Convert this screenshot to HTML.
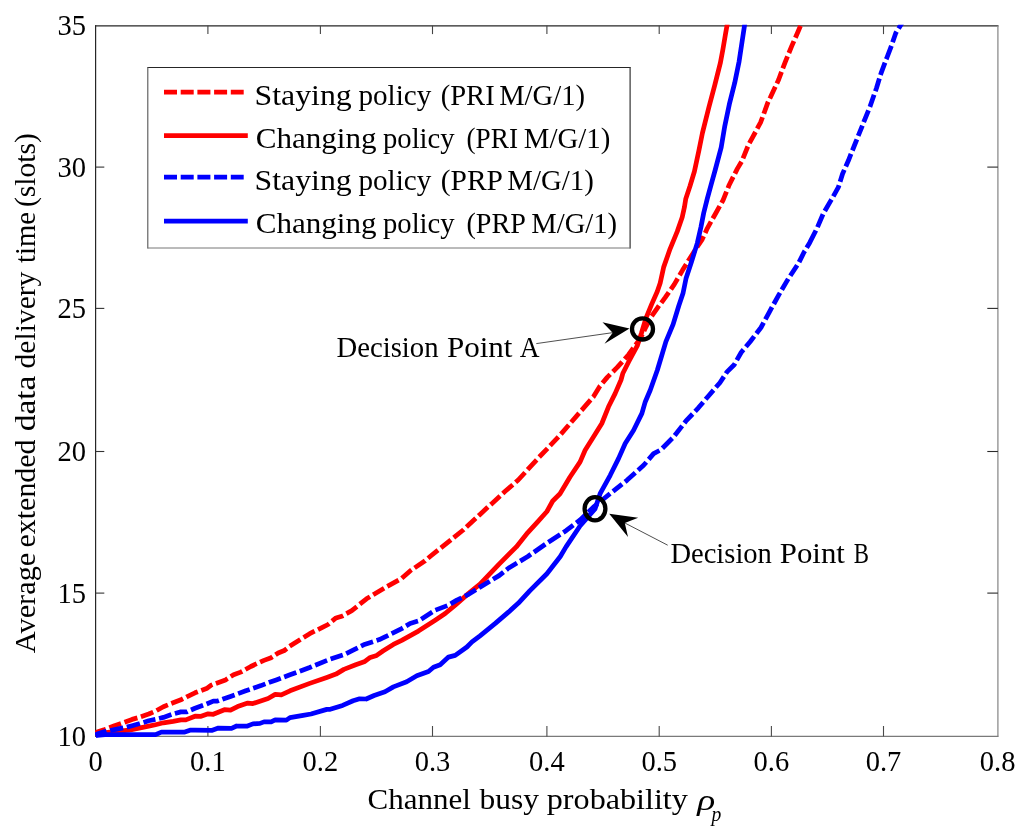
<!DOCTYPE html><html><head><meta charset="utf-8"><style>html,body{margin:0;padding:0;background:#fff;}svg{display:block;}text{font-family:"Liberation Serif",serif;fill:#000;}</style></head><body>
<svg width="1024" height="837" viewBox="0 0 1024 837">
<rect x="0" y="0" width="1024" height="837" fill="#fff"/>
<g fill="none">
<line x1="95.6" y1="25.2" x2="95.6" y2="737.0" stroke="#262626" stroke-width="1.2"/>
<line x1="95.0" y1="25.8" x2="998.5" y2="25.8" stroke="#262626" stroke-width="1.2"/>
<line x1="997.9" y1="25.8" x2="997.9" y2="736.4" stroke-width="1.3" stroke="#8c8c8c"/>
<line x1="95.6" y1="736.4" x2="998.5" y2="736.4" stroke-width="1.3" stroke="#7a7a7a"/>
<line x1="207.9" y1="736.4" x2="207.9" y2="726.0" stroke-width="1.1" stroke="#4a4a4a"/><line x1="207.9" y1="25.8" x2="207.9" y2="34.1" stroke-width="1.1" stroke="#444"/>
<line x1="320.4" y1="736.4" x2="320.4" y2="726.0" stroke-width="1.1" stroke="#4a4a4a"/><line x1="320.4" y1="25.8" x2="320.4" y2="34.1" stroke-width="1.1" stroke="#444"/>
<line x1="432.5" y1="736.4" x2="432.5" y2="726.0" stroke-width="1.1" stroke="#4a4a4a"/><line x1="432.5" y1="25.8" x2="432.5" y2="34.1" stroke-width="1.1" stroke="#444"/>
<line x1="546.9" y1="736.4" x2="546.9" y2="726.0" stroke-width="1.1" stroke="#4a4a4a"/><line x1="546.9" y1="25.8" x2="546.9" y2="34.1" stroke-width="1.1" stroke="#444"/>
<line x1="659.2" y1="736.4" x2="659.2" y2="726.0" stroke-width="1.1" stroke="#4a4a4a"/><line x1="659.2" y1="25.8" x2="659.2" y2="34.1" stroke-width="1.1" stroke="#444"/>
<line x1="771.4" y1="736.4" x2="771.4" y2="726.0" stroke-width="1.1" stroke="#4a4a4a"/><line x1="771.4" y1="25.8" x2="771.4" y2="34.1" stroke-width="1.1" stroke="#444"/>
<line x1="883.5" y1="736.4" x2="883.5" y2="726.0" stroke-width="1.1" stroke="#4a4a4a"/><line x1="883.5" y1="25.8" x2="883.5" y2="34.1" stroke-width="1.1" stroke="#444"/>
<line x1="95.6" y1="593.1" x2="104.3" y2="593.1" stroke-width="1.1" stroke="#333"/><line x1="997.9" y1="593.1" x2="987.3" y2="593.1" stroke-width="1.1" stroke="#2a2a2a"/>
<line x1="95.6" y1="451.5" x2="104.3" y2="451.5" stroke-width="1.1" stroke="#333"/><line x1="997.9" y1="451.5" x2="987.3" y2="451.5" stroke-width="1.1" stroke="#2a2a2a"/>
<line x1="95.6" y1="308.4" x2="104.3" y2="308.4" stroke-width="1.1" stroke="#333"/><line x1="997.9" y1="308.4" x2="987.3" y2="308.4" stroke-width="1.1" stroke="#2a2a2a"/>
<line x1="95.6" y1="167.1" x2="104.3" y2="167.1" stroke-width="1.1" stroke="#333"/><line x1="997.9" y1="167.1" x2="987.3" y2="167.1" stroke-width="1.1" stroke="#2a2a2a"/>
</g>
<defs><clipPath id="pa"><rect x="95.0" y="24.8" width="903" height="716"/></clipPath></defs>
<g clip-path="url(#pa)" fill="none" stroke-width="4.75" stroke-linejoin="round">
<path d="M95.7 735.8 L97.0 732.1 L104.8 729.6 L105.9 729.2 M109.3 727.8 L114.5 725.7 L121.0 723.5 M124.5 722.2 L132.1 719.4 L137.4 717.9 M140.9 716.7 L148.7 714.0 L153.2 712.1 M156.6 710.5 L163.4 706.7 L167.9 704.9 M171.3 703.5 L173.1 702.8 L180.9 699.8 L183.0 698.7 M186.4 697.1 L187.8 696.3 L195.0 692.8 L197.8 691.7 M201.3 690.4 L207.2 688.2 L211.2 685.1 L212.4 684.6 M215.9 683.4 L225.5 679.9 L227.6 678.6 M230.7 676.6 L233.6 674.8 L240.7 672.1 L242.2 671.3 M245.4 669.5 L250.8 666.5 L256.7 663.7 M260.1 662.2 L264.0 660.4 L271.1 657.7 L272.5 656.8 M275.5 654.8 L278.2 653.0 L284.3 650.5 L286.8 648.6 M289.7 646.3 L290.0 646.1 L299.2 640.2 L300.4 639.4 M303.6 637.5 L309.7 633.7 L314.6 631.2 M318.0 629.6 L322.9 627.1 L328.1 624.5 L329.2 623.6 M332.0 621.2 L336.0 617.9 L342.6 615.9 L343.2 615.6 M346.4 613.7 L351.8 610.7 L356.9 606.6 M359.8 604.2 L366.5 598.8 L370.0 596.7 M373.2 594.8 L384.1 588.2 M387.3 586.3 L398.6 580.1 M401.8 578.3 L410.1 570.9 L411.5 569.9 M414.6 567.9 L425.1 560.8 L425.2 560.7 M428.0 558.3 L431.0 555.8 L438.0 550.2 M440.9 547.9 L450.9 539.9 M453.7 537.6 L463.2 530.0 L463.7 529.5 M466.4 527.0 L475.8 518.3 M478.5 515.8 L480.0 514.4 L487.9 507.1 M490.7 504.6 L491.5 503.9 L500.1 496.0 M502.8 493.4 L504.9 491.5 L512.8 484.7 M515.6 482.3 L518.2 480.0 L525.1 472.5 M527.6 469.7 L536.7 459.8 M539.2 457.0 L547.6 448.3 M550.1 445.6 L558.4 436.9 M560.9 434.1 L568.8 425.0 M571.2 422.2 L579.1 413.1 M581.5 410.3 L581.7 410.1 L590.6 399.9 M593.0 397.1 L593.4 396.7 L600.0 386.0 L600.1 385.9 M602.5 383.0 L607.2 377.4 L610.2 374.4 M612.9 371.7 L617.2 367.4 L622.2 361.8 M624.7 359.0 L628.7 354.5 L633.4 348.0 M635.6 345.0 L640.1 338.8 L642.4 334.2 M644.0 330.9 L645.8 327.3 L649.9 319.5 M651.7 316.2 L657.5 307.8 L659.0 305.7 M661.3 302.8 L665.1 297.7 L668.8 292.4 M670.9 289.3 L674.3 284.4 L677.7 278.5 M679.6 275.3 L682.6 270.1 L686.2 264.3 M688.1 261.1 L689.3 259.2 L695.0 250.3 M697.0 247.2 L701.9 240.0 L703.6 236.3 M705.2 232.9 L707.3 228.3 L711.0 221.7 M712.8 218.5 L715.9 213.0 L719.7 206.1 M721.6 202.9 L723.1 200.1 L726.5 191.6 M727.9 188.1 L728.8 185.8 L733.2 176.9 M734.9 173.6 L737.4 168.6 L741.5 161.7 M743.0 158.3 L747.8 146.5 M749.4 143.2 L755.5 132.0 M757.2 128.7 L760.6 122.4 L762.5 117.2 M763.8 113.7 L767.8 102.6 L768.2 101.8 M769.8 98.5 L770.3 97.5 L775.3 86.8 M776.9 83.4 L778.6 79.8 L781.5 71.9 M782.8 68.4 L785.2 62.1 L787.5 56.4 M788.9 53.0 L791.7 46.2 L793.9 41.1 M795.4 37.7 L798.2 31.3 L800.5 25.8 M801.9 22.4 L803.5 18.3" stroke="#ff0000"/>
<path d="M95.7 735.8 L97.0 734.0 L109.6 732.1 L119.4 731.1 L129.2 730.1 L139.0 728.2 L148.7 726.2 L155.5 724.7 L163.4 722.8 L173.1 721.3 L180.9 719.9 L185.8 719.9 L195.0 716.2 L201.1 716.3 L208.2 713.8 L213.3 714.3 L224.4 709.7 L230.5 710.2 L237.6 706.6 L247.8 703.1 L252.9 703.6 L268.1 698.5 L275.2 694.4 L281.3 694.9 L290.0 690.8 L309.7 683.4 L326.8 677.4 L336.0 674.1 L343.9 669.4 L355.7 664.7 L364.9 661.4 L370.2 657.4 L376.7 655.4 L383.3 650.7 L393.4 644.4 L401.7 640.3 L418.4 631.1 L435.2 620.2 L445.2 613.5 L455.2 605.2 L468.6 593.4 L480.0 584.2 L499.1 564.1 L516.3 546.9 L527.8 532.6 L537.4 522.1 L546.9 511.5 L552.7 501.0 L560.0 493.7 L570.0 477.0 L580.1 461.9 L585.1 450.2 L593.4 436.9 L601.8 423.5 L608.5 406.8 L615.2 393.4 L621.0 380.0 L622.9 373.2 L628.7 361.7 L637.2 345.9 L641.5 333.0 L645.8 318.7 L651.6 304.4 L657.3 291.5 L660.2 282.9 L663.6 267.4 L670.1 248.8 L677.2 231.6 L682.2 217.3 L684.4 207.3 L685.8 198.7 L690.1 185.8 L694.4 171.5 L698.8 151.0 L702.4 133.1 L708.7 108.0 L714.9 84.7 L720.3 63.2 L723.0 48.9 L725.7 32.8 L727.0 25.6 L728.4 17.7" stroke="#ff0000"/>
<path d="M95.7 735.8 L97.0 734.0 L104.8 731.6 L106.5 731.2 M110.2 730.5 L114.5 729.6 L123.2 727.9 M126.8 727.1 L132.1 725.7 L139.0 723.8 L139.9 723.5 M143.5 722.4 L148.7 720.8 L155.4 719.4 M159.0 718.5 L163.4 717.4 L171.4 714.6 M174.9 713.5 L180.9 711.9 L186.8 711.9 L187.6 711.5 M191.0 710.0 L195.0 708.3 L203.1 705.3 M206.6 704.0 L213.3 701.1 L217.3 701.1 L218.9 700.5 M222.4 699.3 L230.5 696.4 L234.6 694.9 M238.1 693.6 L245.8 690.7 L249.7 689.4 M253.2 688.2 L261.0 685.6 L265.4 683.9 M268.8 682.6 L276.2 679.9 L280.8 678.2 M284.2 676.9 L290.0 674.8 L296.3 672.5 M299.8 671.2 L309.7 667.5 L311.8 666.6 M315.2 665.2 L327.1 660.4 M330.6 659.0 L342.8 654.9 M346.2 653.6 L353.1 650.1 L357.7 647.8 M361.0 646.1 L363.6 644.8 L373.0 641.7 M376.6 640.5 L379.4 639.6 L385.0 636.9 L388.3 635.3 M391.6 633.6 L401.7 628.6 L402.9 627.9 M406.1 625.9 L410.1 623.5 L418.0 621.1 M421.2 619.2 L432.3 612.1 M435.4 610.1 L447.3 605.6 M450.6 603.9 L456.9 600.1 L461.6 597.8 M464.9 596.1 L468.6 594.3 L475.9 589.7 M479.0 587.7 L480.0 587.1 L489.8 581.2 M493.0 579.3 L499.1 575.6 L503.5 572.1 M506.4 569.8 L508.7 568.0 L517.0 563.0 M520.2 561.1 L527.8 556.5 L530.9 554.3 M533.9 552.2 L545.3 544.2 M548.3 542.2 L560.2 534.5 M563.3 532.5 L566.0 530.7 L573.3 525.1 M576.3 522.9 L580.1 520.0 L585.6 514.7 M588.3 512.1 L593.4 507.1 L597.5 503.8 M600.4 501.5 L610.1 493.7 M613.0 491.4 L622.1 484.1 M625.0 481.8 L626.9 480.3 L635.3 472.8 M638.1 470.3 L643.6 465.3 L646.3 462.2 M648.7 459.4 L653.6 453.6 L659.5 450.5 M662.4 448.2 L672.3 438.3 M674.7 435.5 L682.2 425.9 M684.4 423.0 L685.8 421.2 L692.6 414.0 M695.1 411.3 L698.4 407.8 L703.2 402.2 M705.6 399.3 L709.1 395.2 L713.5 390.1 M715.9 387.3 L719.9 382.7 L723.9 376.6 M725.9 373.5 L727.0 371.9 L734.2 364.8 L735.0 363.4 M736.8 360.1 L741.3 352.2 L743.5 349.6 M745.9 346.8 L750.3 341.5 L754.2 336.4 M756.4 333.5 L761.0 327.5 L763.6 322.7 M765.4 319.4 L769.6 311.6 L772.0 307.2 M773.8 304.0 L779.1 294.4 L780.0 292.9 M781.8 289.7 L788.2 278.9 M790.3 275.8 L797.2 265.3 M799.1 262.1 L804.0 252.3 L804.9 250.9 M806.7 247.7 L809.7 242.7 L815.9 230.5 M817.5 227.1 L823.0 214.3 M824.8 211.0 L830.8 200.6 L831.4 199.5 M833.3 196.3 L838.4 187.2 L839.0 185.3 M840.1 181.7 L842.5 174.0 L844.3 169.9 M845.8 166.5 L848.3 160.8 L851.0 153.9 M852.4 150.5 L855.6 142.5 L856.9 139.3 M858.2 135.9 L862.4 125.6 M863.7 122.2 L868.5 110.3 M869.9 106.8 L870.2 106.0 L874.1 94.8 M875.4 91.3 L876.6 87.8 L879.4 78.5 M880.5 75.0 L881.1 73.1 L885.0 62.7 M886.3 59.2 L886.6 58.5 L891.4 45.8 M892.6 42.3 L895.8 33.0 L896.6 31.6 M898.6 28.5 L900.3 25.7 L904.5 18.9" stroke="#0000ff"/>
<path d="M95.7 735.8 L97.0 735.5 L104.8 734.6 L155.5 734.6 L161.4 732.1 L184.8 732.1 L190.7 730.1 L195.0 730.1 L212.3 730.3 L218.4 728.1 L231.5 728.3 L236.6 726.0 L246.8 726.2 L252.9 723.9 L260.0 723.4 L264.0 721.9 L271.1 721.9 L275.2 719.8 L286.4 720.1 L290.0 717.6 L303.1 715.3 L311.0 714.0 L326.8 709.4 L329.4 709.4 L342.6 705.4 L353.1 700.8 L359.6 698.8 L366.2 699.0 L374.1 695.5 L385.0 691.7 L393.4 686.9 L406.7 681.7 L416.8 675.8 L428.5 671.5 L433.5 667.3 L440.2 664.7 L448.5 657.1 L455.2 655.4 L466.9 647.0 L472.0 641.9 L480.0 635.8 L495.3 623.4 L508.7 611.9 L518.2 603.3 L529.7 590.9 L546.9 573.7 L560.3 556.5 L566.0 546.9 L580.0 526.0 L595.0 509.0 L600.1 493.7 L610.2 475.3 L618.5 458.6 L625.2 443.5 L633.6 430.2 L641.9 413.4 L645.3 401.7 L650.3 390.0 L657.3 370.3 L661.6 356.0 L665.9 341.6 L673.1 324.4 L678.8 305.8 L683.1 292.9 L686.0 278.6 L691.5 261.7 L697.3 243.1 L700.9 227.3 L703.7 213.0 L707.3 198.7 L711.6 182.9 L715.2 170.0 L721.2 147.4 L724.8 125.9 L729.3 104.4 L734.7 82.9 L739.1 61.4 L741.8 43.5 L744.5 25.6 L745.7 17.7" stroke="#0000ff"/>
</g>
<rect x="147.6" y="67.3" width="482.5" height="180.6" fill="#fff"/>
<g fill="none">
<line x1="147.6" y1="67.5" x2="630.4" y2="67.5" stroke="#262626" stroke-width="1.1"/>
<line x1="147.8" y1="67" x2="147.8" y2="248.4" stroke="#555" stroke-width="1.1"/>
<line x1="630.1" y1="67" x2="630.1" y2="248.4" stroke="#333" stroke-width="1.2"/>
<line x1="147.6" y1="248" x2="630.4" y2="248" stroke="#777" stroke-width="1.0"/>
</g>
<line x1="164" y1="92.2" x2="243.7" y2="92.2" stroke="#ff0000" stroke-width="4.75" stroke-dasharray="13 3.7"/>
<line x1="164" y1="135.6" x2="247.8" y2="135.6" stroke="#ff0000" stroke-width="4.75"/>
<line x1="164" y1="177.2" x2="243.7" y2="177.2" stroke="#0000ff" stroke-width="4.75" stroke-dasharray="13 3.7"/>
<line x1="164" y1="221.0" x2="247.8" y2="221.0" stroke="#0000ff" stroke-width="4.75"/>
<line x1="536.3" y1="343.6" x2="613" y2="332.6" stroke="#222" stroke-width="0.8"/>
<polygon points="629.5,328.4 602.5,322.3 612.7,332.7 604.5,343.7" fill="#000"/>
<line x1="667.7" y1="545.2" x2="622" y2="521.5" stroke="#222" stroke-width="0.8"/>
<polygon points="609.2,513.8 638.2,517.8 624.8,523.1 628,537.1" fill="#000"/>
<ellipse cx="642.5" cy="328.9" rx="10.5" ry="10.6" fill="none" stroke="#000" stroke-width="4.3"/>
<ellipse cx="595" cy="508.8" rx="10.4" ry="11.6" fill="none" stroke="#000" stroke-width="4.3"/>
<text x="86.00" y="745.60" font-size="28.5" text-anchor="end">10</text>
<text x="86.00" y="603.00" font-size="28.5" text-anchor="end">15</text>
<text x="86.00" y="461.40" font-size="28.5" text-anchor="end">20</text>
<text x="86.00" y="318.30" font-size="28.5" text-anchor="end">25</text>
<text x="86.00" y="177.00" font-size="28.5" text-anchor="end">30</text>
<text x="86.00" y="35.10" font-size="28.5" text-anchor="end">35</text>
<text x="95.70" y="771.30" font-size="28.5" text-anchor="middle">0</text>
<text x="207.90" y="771.30" font-size="28.5" text-anchor="middle">0.1</text>
<text x="320.40" y="771.30" font-size="28.5" text-anchor="middle">0.2</text>
<text x="432.50" y="771.30" font-size="28.5" text-anchor="middle">0.3</text>
<text x="546.90" y="771.30" font-size="28.5" text-anchor="middle">0.4</text>
<text x="659.20" y="771.30" font-size="28.5" text-anchor="middle">0.5</text>
<text x="771.40" y="771.30" font-size="28.5" text-anchor="middle">0.6</text>
<text x="883.50" y="771.30" font-size="28.5" text-anchor="middle">0.7</text>
<text x="997.60" y="771.30" font-size="28.5" text-anchor="middle">0.8</text>
<text font-size="28.5" transform="rotate(-90)"><tspan x="-653.20" y="35.20" textLength="100.50" lengthAdjust="spacingAndGlyphs">Average</tspan> <tspan x="-547.50" y="35.20" textLength="108.10" lengthAdjust="spacingAndGlyphs">extended</tspan> <tspan x="-431.30" y="35.20" textLength="55.60" lengthAdjust="spacingAndGlyphs">data</tspan> <tspan x="-368.50" y="35.20" textLength="96.90" lengthAdjust="spacingAndGlyphs">delivery</tspan> <tspan x="-262.90" y="35.20" textLength="50.90" lengthAdjust="spacingAndGlyphs">time</tspan> <tspan x="-207.10" y="35.20" textLength="73.90" lengthAdjust="spacingAndGlyphs">(slots)</tspan></text>
<text font-size="28.5"><tspan x="367.60" y="808.70" textLength="103.20" lengthAdjust="spacingAndGlyphs">Channel</tspan> <tspan x="479.50" y="808.70" textLength="59.40" lengthAdjust="spacingAndGlyphs">busy</tspan> <tspan x="546.80" y="808.70" textLength="141.10" lengthAdjust="spacingAndGlyphs">probability</tspan> <tspan x="697.20" y="809.80" textLength="18.00" lengthAdjust="spacingAndGlyphs" font-style="italic" font-size="30">ρ</tspan><tspan x="711.60" y="821.00" textLength="9.80" lengthAdjust="spacingAndGlyphs" font-style="italic" font-size="21.5">p</tspan></text>
<text font-size="28.5"><tspan x="336.50" y="357.40" textLength="102.00" lengthAdjust="spacingAndGlyphs">Decision</tspan> <tspan x="446.90" y="357.40" textLength="65.60" lengthAdjust="spacingAndGlyphs">Point</tspan> <tspan x="519.70" y="357.40" textLength="19.80" lengthAdjust="spacingAndGlyphs">A</tspan></text>
<text font-size="28.5"><tspan x="670.40" y="562.70" textLength="101.50" lengthAdjust="spacingAndGlyphs">Decision</tspan> <tspan x="779.80" y="562.70" textLength="65.10" lengthAdjust="spacingAndGlyphs">Point</tspan> <tspan x="853.80" y="562.70" textLength="15.20" lengthAdjust="spacingAndGlyphs">B</tspan></text>
<text font-size="28.5"><tspan x="254.50" y="105.00" textLength="97.20" lengthAdjust="spacingAndGlyphs">Staying</tspan> <tspan x="358.50" y="105.00" textLength="72.80" lengthAdjust="spacingAndGlyphs">policy</tspan> <tspan x="440.70" y="105.00" textLength="54.00" lengthAdjust="spacingAndGlyphs">(PRI</tspan> <tspan x="499.20" y="105.00" textLength="85.80" lengthAdjust="spacingAndGlyphs">M/G/1)</tspan></text>
<text font-size="28.5"><tspan x="255.70" y="148.00" textLength="120.90" lengthAdjust="spacingAndGlyphs">Changing</tspan> <tspan x="383.00" y="148.00" textLength="71.60" lengthAdjust="spacingAndGlyphs">policy</tspan> <tspan x="466.50" y="148.00" textLength="51.50" lengthAdjust="spacingAndGlyphs">(PRI</tspan> <tspan x="523.80" y="148.00" textLength="86.50" lengthAdjust="spacingAndGlyphs">M/G/1)</tspan></text>
<text font-size="28.5"><tspan x="254.50" y="190.00" textLength="97.20" lengthAdjust="spacingAndGlyphs">Staying</tspan> <tspan x="358.50" y="190.00" textLength="72.80" lengthAdjust="spacingAndGlyphs">policy</tspan> <tspan x="440.70" y="190.00" textLength="61.20" lengthAdjust="spacingAndGlyphs">(PRP</tspan> <tspan x="507.30" y="190.00" textLength="86.50" lengthAdjust="spacingAndGlyphs">M/G/1)</tspan></text>
<text font-size="28.5"><tspan x="255.70" y="232.50" textLength="120.90" lengthAdjust="spacingAndGlyphs">Changing</tspan> <tspan x="383.00" y="232.50" textLength="71.60" lengthAdjust="spacingAndGlyphs">policy</tspan> <tspan x="466.50" y="232.50" textLength="58.40" lengthAdjust="spacingAndGlyphs">(PRP</tspan> <tspan x="531.30" y="232.50" textLength="85.80" lengthAdjust="spacingAndGlyphs">M/G/1)</tspan></text>
</svg></body></html>
